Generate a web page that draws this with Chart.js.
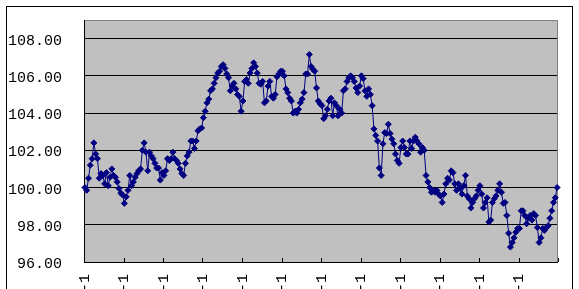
<!DOCTYPE html>
<html>
<head>
<meta charset="utf-8">
<title>Index chart</title>
<script src="https://cdn.jsdelivr.net/npm/chart.js@4.4.1/dist/chart.umd.min.js"></script>
<style>
  html, body { margin: 0; padding: 0; background: #fff; overflow: hidden; }
  #wrap { width: 579px; height: 289px; overflow: hidden; }
</style>
</head>
<body>
<div id="wrap"><canvas id="indexChart" width="579" height="340"></canvas></div>
<script>
// Daily index values (264 trading days)
var indexValues = [
    100.0, 99.85, 100.5, 101.2, 101.55, 102.4, 101.8, 101.55, 100.5, 100.75,
    100.65, 100.2, 100.8, 100.1, 100.55, 101.0, 100.65, 100.55, 100.3, 99.95,
    99.7, 99.6, 99.15, 99.5, 99.85, 100.65, 100.1, 100.3, 100.55, 100.75,
    100.9, 101.0, 102.0, 102.4, 101.9, 100.9, 101.9, 101.7, 101.55, 101.3,
    101.05, 101.05, 100.4, 100.8, 100.65, 100.9, 101.55, 101.45, 101.55, 101.9,
    101.55, 101.45, 101.3, 101.0, 100.75, 100.65, 101.3, 101.7, 101.9, 102.5,
    102.5, 102.1, 102.5, 103.05, 103.15, 103.2, 103.75, 104.1, 104.55, 104.75,
    105.2, 105.3, 105.6, 105.9, 106.15, 106.25, 106.5, 106.6, 106.4, 106.1,
    105.9, 105.2, 105.45, 105.6, 105.3, 105.0, 104.9, 104.1, 104.65, 105.7, 105.8,
    105.6, 106.15, 106.4, 106.7, 106.5, 106.15, 105.6, 105.55, 105.7, 104.55,
    104.65, 105.45, 105.7, 104.9, 104.8, 105.0, 105.95, 106.1, 106.25, 106.25,
    106.0, 105.3, 105.1, 104.8, 104.65, 104.0, 104.1, 104.0, 104.2, 104.55, 104.75,
    105.1, 106.1, 106.1, 107.15, 106.5, 106.35, 106.25, 105.35, 104.65, 104.5,
    104.4, 103.7, 103.85, 104.2, 104.65, 104.8, 103.85, 104.55, 104.4, 103.85,
    104.2, 104.0, 105.2, 105.3, 105.7, 105.9, 106.0, 105.9, 105.7, 105.35, 105.1,
    105.45, 106.0, 105.85, 105.2, 104.9, 105.3, 105.0, 104.4, 103.15, 102.8,
    102.5, 101.05, 100.65, 102.35, 102.95, 102.9, 103.4, 102.9, 102.6, 102.35, 101.8,
    101.45, 101.3, 102.15, 102.5, 102.15, 101.8, 101.8, 102.5, 102.1, 102.5,
    102.7, 102.5, 102.35, 101.9, 102.15, 102.0, 100.65, 100.3, 100.0, 99.75,
    99.85, 99.75, 99.85, 99.65, 99.55, 99.2, 99.65, 100.2, 100.5, 100.4,
    100.9, 100.8, 100.2, 99.85, 100.2, 99.95, 99.65, 100.1, 100.65, 99.55,
    99.4, 98.9, 99.2, 99.4, 99.55, 99.85, 100.1, 99.65, 98.9, 99.2,
    99.45, 98.15, 98.25, 99.2, 99.4, 99.55, 99.85, 100.2, 99.75, 99.15,
    99.2, 98.5, 97.55, 96.8, 97.05, 97.3, 97.6, 97.8, 97.8, 98.75,
    98.75, 98.5, 98.05, 98.35, 98.5, 98.25, 98.6, 98.5, 97.85, 97.05,
    97.3, 97.8, 97.7, 97.85, 97.95, 98.35, 98.75, 99.2, 99.45, 100.0
];

// Date labels under the axis, one every labelEvery points
var tickLabels = [
    '2008-1-1', '2008-2-1', '2008-3-1', '2008-4-1', '2008-5-1', '2008-6-1',
    '2008-7-1', '2008-8-1', '2008-9-1', '2008-10-1', '2008-11-1', '2008-12-1'
];
var labelEvery = 22;

// Value axis
var yMin = 96;
var yMax = 109;
var yStep = 2;
var yTopTick = 108;

// One category per point, only every labelEvery-th one carries text
var categories = indexValues.map(function (v, i) {
    return i % labelEvery === 0 ? (tickLabels[i / labelEvery] || '') : '';
});

// Background, outer border, plot frame and inward tick marks
var chartFrame = {
    id: 'chartFrame',
    beforeDraw: function (chart) {
        var ctx = chart.ctx;
        var a = chart.chartArea;
        ctx.save();
        ctx.fillStyle = '#fff';
        ctx.fillRect(0, 0, chart.width, chart.height);
        ctx.strokeStyle = '#000';
        ctx.lineWidth = 1;
        ctx.strokeRect(6.5, 6.5, chart.width - 13, chart.height);
        ctx.fillStyle = '#c0c0c0';
        ctx.fillRect(a.left, a.top, a.right - a.left, a.bottom - a.top);
        ctx.restore();
    },
    beforeDatasetsDraw: function (chart) {
        var ctx = chart.ctx;
        var a = chart.chartArea;
        var xs = chart.scales.x;
        var half = (xs.getPixelForValue(1) - xs.getPixelForValue(0)) / 2;
        ctx.save();
        ctx.lineWidth = 1;

        // gray frame on top and right
        ctx.strokeStyle = '#808080';
        ctx.beginPath();
        ctx.moveTo(a.left, a.top + 0.5);
        ctx.lineTo(a.right - 0.5, a.top + 0.5);
        ctx.lineTo(a.right - 0.5, a.bottom);
        ctx.stroke();

        // black axes
        ctx.strokeStyle = '#000';
        ctx.beginPath();
        ctx.moveTo(a.left + 0.5, a.top);
        ctx.lineTo(a.left + 0.5, a.bottom + 0.5);
        ctx.lineTo(a.right, a.bottom + 0.5);

        // tick marks between categories, pointing up into the plot
        for (var i = 0; i <= indexValues.length; i += labelEvery) {
            var px = Math.round(xs.getPixelForValue(i) - half) + 0.5;
            ctx.moveTo(px, a.bottom);
            ctx.lineTo(px, a.bottom - 4);
        }
        ctx.stroke();
        ctx.restore();
    }
};

function noScalePadding(scale) {
    scale.paddingTop = 0;
    scale.paddingBottom = 0;
    scale.paddingLeft = 0;
    scale.paddingRight = 0;
}

var ctx = document.getElementById('indexChart').getContext('2d');
var indexChart = new Chart(ctx, {
    type: 'line',
    data: {
        labels: categories,
        datasets: [{
            data: indexValues,
            borderColor: '#000080',
            backgroundColor: '#000080',
            borderWidth: 1,
            tension: 0,
            pointStyle: 'rectRot',
            pointRadius: 3,
            pointBorderWidth: 1,
            pointBackgroundColor: '#000080',
            pointBorderColor: '#000080'
        }]
    },
    options: {
        responsive: false,
        animation: false,
        events: [],
        layout: {
            padding: { left: 0, top: 20, right: 21, bottom: 0 }
        },
        plugins: {
            legend: { display: false },
            tooltip: { enabled: false }
        },
        scales: {
            x: {
                type: 'category',
                offset: true,
                grid: { display: false, drawTicks: false },
                border: { display: false },
                ticks: {
                    autoSkip: false,
                    minRotation: 90,
                    maxRotation: 90,
                    padding: 12,
                    color: '#000',
                    font: { family: 'Liberation Mono', size: 15 }
                },
                afterFit: function (scale) {
                    scale.height = 78;
                    noScalePadding(scale);
                }
            },
            y: {
                min: yMin,
                max: yMax,
                grid: { color: '#000', lineWidth: 1, drawTicks: false },
                border: { display: false },
                ticks: {
                    stepSize: yStep,
                    includeBounds: false,
                    padding: 22,
                    labelOffset: 2,
                    color: '#000',
                    font: { family: 'Liberation Mono', size: 15 },
                    callback: function (value) {
                        return value.toFixed(2);
                    }
                },
                afterBuildTicks: function (scale) {
                    scale.ticks = scale.ticks.filter(function (t) {
                        return t.value <= yTopTick;
                    });
                },
                afterFit: function (scale) {
                    scale.width = 84;
                    noScalePadding(scale);
                }
            }
        }
    },
    plugins: [chartFrame]
});
</script>
</body>
</html>
